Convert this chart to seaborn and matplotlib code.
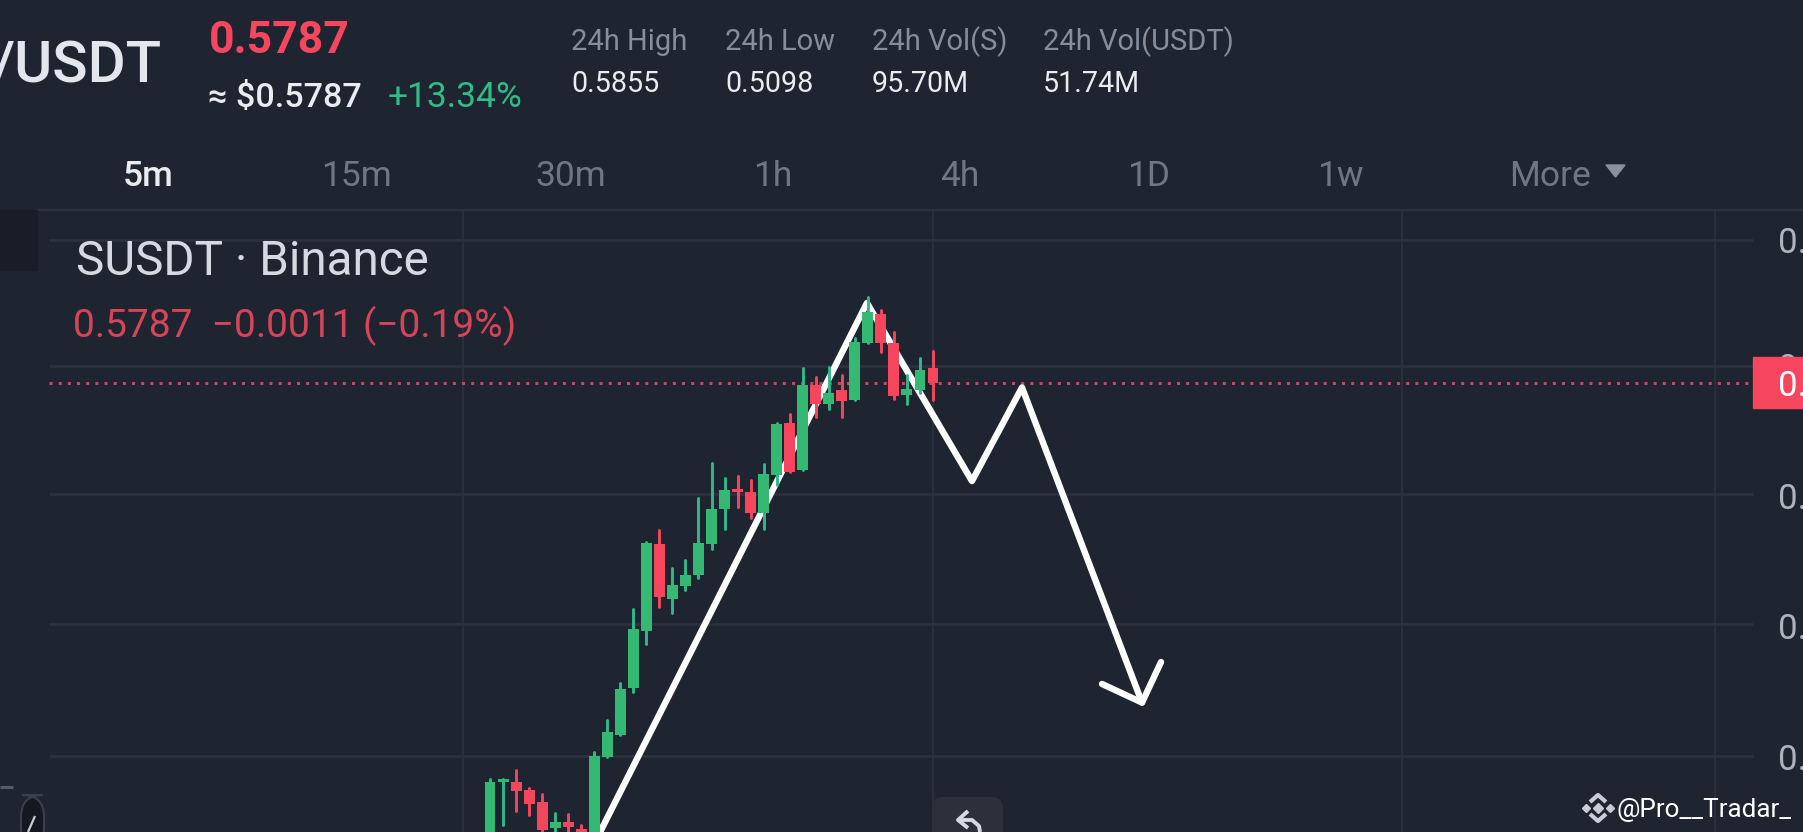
import matplotlib.pyplot as plt
import pandas as pd
import seaborn as sns
from matplotlib.lines import Line2D
from matplotlib.patches import FancyBboxPatch, Polygon, Rectangle

W, H = 1803, 832
BG = '#1f2530'
GRID = '#2b323d'
RED = '#f6465d'
GREEN = '#35b872'
WICK_GREEN = '#2fb98a'

# candles
opens = [0.54315, 0.54800, 0.54800, 0.54738, 0.54646, 0.54446, 0.54496, 0.54438, 0.54315,
         0.54992, 0.55165, 0.55523, 0.55964, 0.56631, 0.56210, 0.56311, 0.56392, 0.56631,
         0.56900, 0.57054, 0.57031, 0.56869, 0.57162, 0.57562, 0.57200, 0.57854, 0.57708,
         0.57815, 0.57738, 0.58177, 0.58400, 0.58177, 0.57777, 0.57815, 0.57985]
highs = [0.54823, 0.54823, 0.54892, 0.54754, 0.54708, 0.54562, 0.54554, 0.54469, 0.55027,
         0.55277, 0.55558, 0.56131, 0.56646, 0.56738, 0.56446, 0.56508, 0.56985, 0.57254,
         0.57138, 0.57154, 0.57123, 0.57246, 0.57562, 0.57631, 0.57985, 0.57915, 0.57992,
         0.57931, 0.58215, 0.58531, 0.58431, 0.58262, 0.57931, 0.58062, 0.58115]
lows = [0.54315, 0.54469, 0.54577, 0.54546, 0.54392, 0.54354, 0.54354, 0.54315, 0.54315,
        0.54992, 0.55165, 0.55492, 0.55864, 0.56146, 0.56100, 0.56277, 0.56373, 0.56595,
        0.56746, 0.56915, 0.56831, 0.56746, 0.57085, 0.57185, 0.57200, 0.57608, 0.57669,
        0.57608, 0.57738, 0.58177, 0.58108, 0.57746, 0.57708, 0.57792, 0.57738]
closes = [0.54800, 0.54823, 0.54731, 0.54631, 0.54431, 0.54492, 0.54454, 0.54338, 0.55000,
          0.55181, 0.55519, 0.55977, 0.56638, 0.56223, 0.56315, 0.56392, 0.56638, 0.56900,
          0.57046, 0.57031, 0.56869, 0.57169, 0.57554, 0.57185, 0.57854, 0.57708, 0.57792,
          0.57731, 0.58185, 0.58415, 0.58177, 0.57769, 0.57823, 0.57969, 0.57869]

# hand drawn arrow
arrow_idx = [8.06, 28.93, 36.99, 40.83, 50.04]
arrow_price = [0.54338, 0.58485, 0.57115, 0.57835, 0.55411]
head_idx = [46.97, 50.04, 51.5]
head_price = [0.55554, 0.55411, 0.55723]

grid_prices = [0.59200, 0.58969, 0.58000, 0.57015, 0.56015, 0.55000]
grid_idx = [-2.07, 34, 70, 94]
last_price = 0.5787

df = pd.DataFrame({'open': opens, 'high': highs, 'low': lows, 'close': closes})
df['idx'] = df.index
df['up'] = df['close'] >= df['open']

sns.set_theme(style='dark', rc={'axes.facecolor': BG, 'figure.facecolor': BG})
plt.rcParams['font.family'] = ['Roboto', 'DejaVu Sans']

fig = plt.figure(figsize=(W / 100, H / 100), dpi=100)
ax = fig.add_axes([0, 0, 1, 1])
ax.set_xlim(-490 / 13.03, (W - 490) / 13.03)
ax.set_ylim(0.58 - (H - 366) / 13000, 0.58 + 366 / 13000)
ax.set_xticks([])
ax.set_yticks([])
for s in ax.spines.values():
    s.set_visible(False)


def idx_at(px):
    return (px - 490) / 13.03


def price_at(py):
    return 0.58 + (366 - py) / 13000


# grid
ax.vlines(grid_idx, price_at(832), price_at(210), color=GRID, lw=1.3, zorder=1)
ax.hlines(grid_prices[0], idx_at(37), idx_at(W), color=GRID, lw=1.7, zorder=1)
ax.hlines(grid_prices[1:], idx_at(49), idx_at(1753), color=GRID, lw=2, zorder=1)
ax.hlines(last_price, idx_at(49), idx_at(1753), color='#c9475b', lw=2.2,
          linestyles=(0, (1.0, 2.0)), zorder=2)

# arrow goes under the candles
arrow = pd.DataFrame({'idx': arrow_idx, 'price': arrow_price})
head = pd.DataFrame({'idx': head_idx, 'price': head_price})
sns.lineplot(data=arrow, x='idx', y='price', sort=False, estimator=None, color='white',
             lw=4.6, ax=ax, zorder=3)
sns.lineplot(data=head, x='idx', y='price', sort=False, estimator=None, color='white',
             lw=4.6, ax=ax, zorder=3)

# wicks then bodies
wicks = df.melt(id_vars=['idx', 'up'], value_vars=['high', 'low'], value_name='price')
sns.lineplot(data=wicks, x='idx', y='price', units='idx', hue='up', estimator=None,
             palette={True: WICK_GREEN, False: RED}, lw=2.1, legend=False, ax=ax, zorder=4)
for up, g in df.groupby('up'):
    bottom = g[['open', 'close']].min(axis=1)
    height = (g['close'] - g['open']).abs().clip(lower=0.0002)
    ax.bar(g['idx'], height, bottom=bottom, width=0.84, color=GREEN if up else RED,
           linewidth=0, zorder=5)
ax.set_xlabel('')
ax.set_ylabel('')


def px_text(x, y, s, size, color, weight='normal', ha='left', va='baseline', **kw):
    fig.text(x / W, 1 - y / H, s, fontsize=size, color=color, fontweight=weight,
             ha=ha, va=va, **kw)


# header
px_text(-8, 82, '/USDT', 42, '#e3e6ec', 'medium')
px_text(209, 53, '0.5787', 32, RED, 'bold')
px_text(208, 107, '≈ $0.5787', 24.6, '#eaecef', 'medium')
px_text(388, 107, '+13.34%', 25.5, '#2ebd85')
stat_x = [571, 725, 872, 1043]
stat_names = ['24h High', '24h Low', '24h Vol(S)', '24h Vol(USDT)']
stat_values = ['0.5855', '0.5098', '95.70M', '51.74M']
for x, name, val in zip(stat_x, stat_names, stat_values):
    px_text(x, 50, name, 21, '#848e9c')
    px_text(x, 92, val, 20.6, '#eaecef')

# interval tabs
tab_x = [148, 356, 571, 773, 960, 1149, 1340, 1550]
tab_names = ['5m', '15m', '30m', '1h', '4h', '1D', '1w', 'More']
for x, name in zip(tab_x, tab_names):
    if name == '5m':
        px_text(x, 186, name, 25.5, '#eaecef', 'medium', ha='center')
    else:
        px_text(x, 186, name, 25.5, '#6f7785', ha='center')
fig.add_artist(Polygon([[1606 / W, 1 - 165 / H], [1625 / W, 1 - 165 / H], [1615.5 / W, 1 - 177 / H]],
                       closed=True, color='#8a919e', transform=fig.transFigure))

# chart legend
px_text(76, 275, 'SUSDT · Binance', 34.3, '#d5d9e2')
px_text(73, 337, '0.5787  −0.0011 (−0.19%)', 28, '#d4455a')

# price scale, cut by the picture edge
scale_y = [240, 366, 496, 626, 757]
for y in scale_y:
    px_text(1778, y, '0.', 25, '#aeb4bc', va='center_baseline')
fig.add_artist(Rectangle((1753 / W, 1 - 408 / H), 50 / W, 51 / H, color=RED,
                         transform=fig.transFigure, zorder=6))
px_text(1778, 383, '0.', 25, 'white', va='center_baseline', zorder=7)

# dark patch top left
fig.add_artist(Rectangle((0, 1 - 270 / H), 37 / W, 60 / H, color='#181d27',
                         transform=fig.transFigure, zorder=0.5))


def px_line(xs, ys, color, lw):
    fig.add_artist(Line2D([x / W for x in xs], [1 - y / H for y in ys], color=color, lw=lw,
                          transform=fig.transFigure, solid_capstyle='butt', zorder=7))


# bottom left bits
px_line([0, 13], [787, 787], '#555b66', 2.2)
fig.add_artist(FancyBboxPatch((21 / W, 1 - 850 / H), 23 / W, 55 / H,
                              boxstyle='round,pad=0,rounding_size=0.012', mutation_aspect=2.2,
                              fc='#141820', ec='#3a404b', lw=1.5, transform=fig.transFigure))
px_line([28, 35], [832, 816], '#c9ccd3', 1.6)
fig.add_artist(plt.Circle((136 / W, 1 - 855 / H), 0.015, fc='none', ec='#4a505b', lw=1.6,
                          transform=fig.transFigure))

# undo button
fig.add_artist(FancyBboxPatch((932 / W, 1 - 850 / H), 71 / W, 53 / H,
                              boxstyle='round,pad=0,rounding_size=0.006', mutation_aspect=2.2,
                              fc='#2b303b', ec='none', transform=fig.transFigure))
px_line([968, 958, 968], [811, 820, 828], '#d5d9e2', 2.8)
px_line([960, 972, 979, 980], [820, 820, 826, 832], '#d5d9e2', 2.8)

# watermark with the small logo
logo_x = [1598, 1586, 1610]
logo_y = [808, 808, 808]
logo_s = [5, 4, 4]
for x, y, s in zip(logo_x, logo_y, logo_s):
    fig.add_artist(Line2D([x / W], [1 - y / H], marker='D', ms=s, color='#c8ccd4', lw=0,
                          transform=fig.transFigure, zorder=7))
px_line([1590, 1598, 1606], [802, 795, 802], '#c8ccd4', 3)
px_line([1590, 1598, 1606], [814, 821, 814], '#c8ccd4', 3)
px_text(1616, 817, '@Pro__Tradar_', 18.7, 'white')

fig.savefig('out.png', dpi=100, facecolor=BG)
